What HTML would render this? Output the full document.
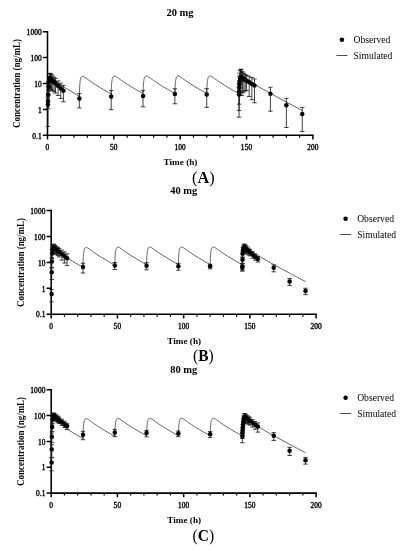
<!DOCTYPE html>
<html lang="en"><head><meta charset="utf-8"><title>Figure</title>
<style>
html,body{margin:0;padding:0;background:#fff}
body{width:407px;height:550px;overflow:hidden}
svg{display:block;font-family:"Liberation Serif",serif;fill:#000}
.ttl{font-weight:bold;font-size:10.5px}
.tl{font-weight:normal;font-size:7.4px;letter-spacing:0.1px;stroke:#000;stroke-width:0.36px}
.al{font-weight:bold;font-size:9.2px}
.lg{font-size:9.6px}
.pl{font-size:16.2px}
.pl .b{font-weight:bold}
.ax{fill:none;stroke:#000;stroke-width:1.55}
.tk{fill:none;stroke:#000;stroke-width:1.5}
.mtk{fill:none;stroke:#000;stroke-width:1.2}
.sim{fill:none;stroke:#111;stroke-width:0.65;stroke-linejoin:round}
.lgl{fill:none;stroke:#000;stroke-width:0.7}
.eb{fill:none;stroke:#111;stroke-width:0.8}
</style></head><body>
<svg width="407" height="550" viewBox="0 0 407 550">
<rect width="407" height="550" fill="#fff"/>
<g class="panel" id="panelA">
<text class="ttl" x="180" y="16.2" text-anchor="middle">20 mg</text>
<path class="ax" d="M47.5 30.93V136.09M46.73 135.32H313.67"/>
<path class="tk" d="M42.9 31.7H47.5M42.9 57.61H47.5M42.9 83.51H47.5M42.9 109.42H47.5M42.9 135.32H47.5M47.5 135.32V139.52M113.85 135.32V139.52M180.2 135.32V139.52M246.55 135.32V139.52M312.9 135.32V139.52"/>
<path class="mtk" d="M60.77 135.32V137.72M74.04 135.32V137.72M87.31 135.32V137.72M100.58 135.32V137.72M127.12 135.32V137.72M140.39 135.32V137.72M153.66 135.32V137.72M166.93 135.32V137.72M193.47 135.32V137.72M206.74 135.32V137.72M220.01 135.32V137.72M233.28 135.32V137.72M259.82 135.32V137.72M273.09 135.32V137.72M286.36 135.32V137.72M299.63 135.32V137.72"/>
<text class="tl" x="41.8" y="34.9" text-anchor="end">1000</text>
<text class="tl" x="41.8" y="60.81" text-anchor="end">100</text>
<text class="tl" x="41.8" y="86.71" text-anchor="end">10</text>
<text class="tl" x="41.8" y="112.62" text-anchor="end">1</text>
<text class="tl" x="41.8" y="138.52" text-anchor="end">0.1</text>
<text class="tl" x="47.5" y="150.02" text-anchor="middle">0</text>
<text class="tl" x="113.85" y="150.02" text-anchor="middle">50</text>
<text class="tl" x="180.2" y="150.02" text-anchor="middle">100</text>
<text class="tl" x="246.55" y="150.02" text-anchor="middle">150</text>
<text class="tl" x="312.9" y="150.02" text-anchor="middle">200</text>
<text class="al" x="180.5" y="164.92" text-anchor="middle">Time (h)</text>
<text class="al" transform="translate(17.4 83.51) rotate(-90)" text-anchor="middle" y="3" textLength="89" lengthAdjust="spacingAndGlyphs" style="font-size:9.8px">Concentration (ng/mL)</text>
<polyline class="sim" points="47.57,109.08 47.63,101.6 47.7,97.34 47.77,94.41 47.9,90.46 48.03,87.82 48.16,85.9 48.3,84.44 48.43,83.28 48.56,82.35 48.69,81.59 48.83,80.96 49.09,79.99 49.36,79.32 49.62,78.85 49.89,78.53 50.15,78.32 50.49,78.17 50.82,78.13 51.15,78.16 51.48,78.25 52.14,78.54 52.81,78.93 54.13,79.86 55.46,80.86 56.79,81.88 58.12,82.88 60.77,84.8 63.42,86.61 66.08,88.34 68.73,90 71.39,91.6 74.04,93.16 76.69,94.68 79.33,96.17 79.35,96.18 79.41,93.1 79.48,90.81 79.55,89.01 79.61,87.53 79.75,85.24 79.88,83.54 80.01,82.21 80.14,81.16 80.28,80.3 80.41,79.59 80.54,79.01 80.67,78.52 80.94,77.76 81.21,77.23 81.47,76.86 81.74,76.62 82,76.46 82.33,76.37 82.67,76.36 83,76.41 83.33,76.51 83.99,76.81 84.66,77.2 85.98,78.1 87.31,79.06 88.64,80.03 89.96,80.99 92.62,82.83 95.27,84.58 97.93,86.26 100.58,87.88 103.23,89.45 105.89,90.98 108.54,92.48 111.18,93.95 111.2,93.96 111.26,91.38 111.33,89.39 111.4,87.79 111.46,86.46 111.59,84.37 111.73,82.79 111.86,81.55 111.99,80.55 112.12,79.74 112.26,79.07 112.39,78.52 112.52,78.05 112.79,77.33 113.05,76.82 113.32,76.47 113.58,76.24 113.85,76.09 114.18,76.01 114.51,76 114.85,76.06 115.18,76.16 115.84,76.46 116.5,76.85 117.83,77.74 119.16,78.7 120.48,79.66 121.81,80.61 124.47,82.44 127.12,84.18 129.77,85.85 132.43,87.46 135.08,89.02 137.74,90.55 140.39,92.05 143.03,93.52 143.04,93.52 143.11,91.03 143.18,89.1 143.24,87.54 143.31,86.24 143.44,84.18 143.57,82.63 143.71,81.4 143.84,80.42 143.97,79.62 144.11,78.96 144.24,78.41 144.37,77.95 144.64,77.24 144.9,76.73 145.17,76.39 145.43,76.15 145.7,76.01 146.03,75.93 146.36,75.92 146.69,75.98 147.02,76.08 147.69,76.39 148.35,76.77 149.68,77.67 151.01,78.62 152.33,79.58 153.66,80.53 156.31,82.35 158.97,84.09 161.62,85.76 164.28,87.36 166.93,88.93 169.58,90.45 172.24,91.95 174.88,93.42 174.89,93.43 174.96,90.96 175.02,89.04 175.09,87.48 175.16,86.19 175.29,84.14 175.42,82.59 175.56,81.37 175.69,80.39 175.82,79.59 175.95,78.93 176.09,78.38 176.22,77.92 176.48,77.21 176.75,76.71 177.02,76.37 177.28,76.14 177.55,75.99 177.88,75.91 178.21,75.91 178.54,75.96 178.87,76.07 179.54,76.37 180.2,76.76 181.53,77.65 182.85,78.6 184.18,79.56 185.51,80.51 188.16,82.33 190.82,84.07 193.47,85.74 196.12,87.34 198.78,88.91 201.43,90.43 204.09,91.93 206.73,93.4 206.74,93.41 206.81,90.94 206.87,89.02 206.94,87.47 207.01,86.18 207.14,84.13 207.27,82.58 207.4,81.37 207.54,80.39 207.67,79.59 207.8,78.93 207.93,78.38 208.07,77.92 208.33,77.21 208.6,76.71 208.86,76.36 209.13,76.13 209.39,75.99 209.73,75.91 210.06,75.9 210.39,75.96 210.72,76.06 211.38,76.37 212.05,76.75 213.38,77.65 214.7,78.6 216.03,79.56 217.36,80.5 220.01,82.33 222.66,84.07 225.32,85.73 227.97,87.34 230.63,88.9 233.28,90.43 235.93,91.92 238.57,93.39 238.59,93.4 238.65,90.94 238.72,89.02 238.79,87.47 238.85,86.17 238.99,84.13 239.12,82.58 239.25,81.36 239.38,80.39 239.52,79.59 239.65,78.93 239.78,78.38 239.91,77.92 240.18,77.21 240.45,76.71 240.71,76.36 240.98,76.13 241.24,75.99 241.57,75.91 241.91,75.9 242.24,75.96 242.57,76.06 243.23,76.37 243.9,76.75 245.22,77.64 246.55,78.6 247.88,79.56 249.2,80.5 251.86,82.33 254.51,84.07 257.17,85.73 259.82,87.34 262.47,88.9 265.13,90.43 267.78,91.92 270.44,93.4 278.4,97.74 286.36,102.02 294.32,106.26 302.28,110.49"/>
<path class="eb" d="M47.9 97.91V126.45M45.7 97.91h4.4M45.7 126.45h4.4M48.03 96.69V108.34M45.83 96.69h4.4M45.83 108.34h4.4M48.16 90.03V101.62M45.96 90.03h4.4M45.96 101.62h4.4M48.43 81.94V95.32M46.23 81.94h4.4M46.23 95.32h4.4M48.83 76.29V91.31M46.63 76.29h4.4M46.63 91.31h4.4M49.62 73.34V87.05M47.42 73.34h4.4M47.42 87.05h4.4M50.15 73.65V88.15M47.95 73.65h4.4M47.95 88.15h4.4M50.82 74.03V89.61M48.62 74.03h4.4M48.62 89.61h4.4M51.48 74.66V90.13M49.28 74.66h4.4M49.28 90.13h4.4M52.81 76.03V90.77M50.61 76.03h4.4M50.61 90.77h4.4M54.13 77.29V91.81M51.93 77.29h4.4M51.93 91.81h4.4M55.46 78.47V93.15M53.26 78.47h4.4M53.26 93.15h4.4M58.12 80.94V95.44M55.92 80.94h4.4M55.92 95.44h4.4M60.77 83.23V98.43M58.57 83.23h4.4M58.57 98.43h4.4M63.42 85.42V101.84M61.22 85.42h4.4M61.22 101.84h4.4M79.35 93.6V107.94M77.15 93.6h4.4M77.15 107.94h4.4M111.2 90.48V109.64M109 90.48h4.4M109 109.64h4.4M143.04 90.57V106.81M140.84 90.57h4.4M140.84 106.81h4.4M174.89 88.8V103.78M172.69 88.8h4.4M172.69 103.78h4.4M206.74 88.71V107.36M204.54 88.71h4.4M204.54 107.36h4.4M239.03 87.36V117.21M236.83 87.36h4.4M236.83 117.21h4.4M239.12 84.57V110.6M236.92 84.57h4.4M236.92 110.6h4.4M239.19 81.09V104.13M236.99 81.09h4.4M236.99 104.13h4.4M239.38 76V84.09M237.18 76h4.4M239.65 73.2V81.46M237.45 73.2h4.4M240.05 70.6V78.58M237.85 70.6h4.4M240.71 69.26V77.21M238.51 69.26h4.4M241.24 69.41V77.53M239.04 69.41h4.4M241.91 71.37V95.57M239.71 71.37h4.4M239.71 95.57h4.4M242.57 72.19V92.87M240.37 72.19h4.4M240.37 92.87h4.4M243.9 73.3V91.83M241.7 73.3h4.4M241.7 91.83h4.4M245.22 74.5V90.72M243.02 74.5h4.4M243.02 90.72h4.4M246.55 75.53V90.59M244.35 75.53h4.4M244.35 90.59h4.4M249.2 76.21V96.54M247 76.21h4.4M247 96.54h4.4M251.86 77.56V99.69M249.66 77.56h4.4M249.66 99.69h4.4M254.51 78.95V102.8M252.31 78.95h4.4M252.31 102.8h4.4M270.44 87.28V111.24M268.24 87.28h4.4M268.24 111.24h4.4M286.36 98.32V127.52M284.16 98.32h4.4M284.16 127.52h4.4M302.28 107.36V131.53M300.08 107.36h4.4M300.08 131.53h4.4"/>
<circle cx="47.9" cy="104.85" r="2.25"/>
<circle cx="48.03" cy="101.07" r="2.25"/>
<circle cx="48.16" cy="94.4" r="2.25"/>
<circle cx="48.43" cy="86.75" r="2.25"/>
<circle cx="48.83" cy="81.46" r="2.25"/>
<circle cx="49.62" cy="78.22" r="2.25"/>
<circle cx="50.15" cy="78.71" r="2.25"/>
<circle cx="50.82" cy="79.32" r="2.25"/>
<circle cx="51.48" cy="79.92" r="2.25"/>
<circle cx="52.81" cy="81.14" r="2.25"/>
<circle cx="54.13" cy="82.36" r="2.25"/>
<circle cx="55.46" cy="83.57" r="2.25"/>
<circle cx="58.12" cy="86" r="2.25"/>
<circle cx="60.77" cy="88.44" r="2.25"/>
<circle cx="63.42" cy="90.87" r="2.25"/>
<circle cx="79.35" cy="98.62" r="2.25"/>
<circle cx="111.2" cy="96.4" r="2.25"/>
<circle cx="143.04" cy="95.98" r="2.25"/>
<circle cx="174.89" cy="93.96" r="2.25"/>
<circle cx="206.74" cy="94.54" r="2.25"/>
<circle cx="239.03" cy="94.4" r="2.25"/>
<circle cx="239.12" cy="91.31" r="2.25"/>
<circle cx="239.19" cy="87.52" r="2.25"/>
<circle cx="239.38" cy="84.09" r="2.25"/>
<circle cx="239.65" cy="81.46" r="2.25"/>
<circle cx="240.05" cy="78.58" r="2.25"/>
<circle cx="240.71" cy="77.21" r="2.25"/>
<circle cx="241.24" cy="77.53" r="2.25"/>
<circle cx="241.91" cy="77.93" r="2.25"/>
<circle cx="242.57" cy="78.33" r="2.25"/>
<circle cx="243.9" cy="79.12" r="2.25"/>
<circle cx="245.22" cy="79.91" r="2.25"/>
<circle cx="246.55" cy="80.71" r="2.25"/>
<circle cx="249.2" cy="82.3" r="2.25"/>
<circle cx="251.86" cy="83.88" r="2.25"/>
<circle cx="254.51" cy="85.47" r="2.25"/>
<circle cx="270.44" cy="93.82" r="2.25"/>
<circle cx="286.36" cy="105.31" r="2.25"/>
<circle cx="302.28" cy="113.92" r="2.25"/>
<circle cx="341.9" cy="39.8" r="2.25"/>
<text class="lg" x="353.5" y="43">Observed</text>
<path class="lgl" d="M336.4 55.5h11"/>
<text class="lg" x="353.5" y="59">Simulated</text>
<text class="pl" x="203.4" y="183" text-anchor="middle" textLength="22.6" lengthAdjust="spacingAndGlyphs">(<tspan class="b">A</tspan>)</text>
</g>
<g class="panel" id="panelB">
<text class="ttl" x="183.7" y="194.1" text-anchor="middle">40 mg</text>
<path class="ax" d="M51.2 209.82V315.04M50.43 314.27H316.87"/>
<path class="tk" d="M46.6 210.6H51.2M46.6 236.52H51.2M46.6 262.44H51.2M46.6 288.35H51.2M46.6 314.27H51.2M51.2 314.27V318.47M117.42 314.27V318.47M183.65 314.27V318.47M249.88 314.27V318.47M316.1 314.27V318.47"/>
<path class="mtk" d="M64.45 314.27V316.67M77.69 314.27V316.67M90.94 314.27V316.67M104.18 314.27V316.67M130.67 314.27V316.67M143.92 314.27V316.67M157.16 314.27V316.67M170.41 314.27V316.67M196.89 314.27V316.67M210.14 314.27V316.67M223.38 314.27V316.67M236.63 314.27V316.67M263.12 314.27V316.67M276.37 314.27V316.67M289.61 314.27V316.67M302.86 314.27V316.67"/>
<text class="tl" x="45.5" y="213.8" text-anchor="end">1000</text>
<text class="tl" x="45.5" y="239.72" text-anchor="end">100</text>
<text class="tl" x="45.5" y="265.63" text-anchor="end">10</text>
<text class="tl" x="45.5" y="291.55" text-anchor="end">1</text>
<text class="tl" x="45.5" y="317.47" text-anchor="end">0.1</text>
<text class="tl" x="51.2" y="328.97" text-anchor="middle">0</text>
<text class="tl" x="117.42" y="328.97" text-anchor="middle">50</text>
<text class="tl" x="183.65" y="328.97" text-anchor="middle">100</text>
<text class="tl" x="249.88" y="328.97" text-anchor="middle">150</text>
<text class="tl" x="316.1" y="328.97" text-anchor="middle">200</text>
<text class="al" x="184.2" y="343.87" text-anchor="middle">Time (h)</text>
<text class="al" transform="translate(21.1 262.44) rotate(-90)" text-anchor="middle" y="3" textLength="89" lengthAdjust="spacingAndGlyphs" style="font-size:9.8px">Concentration (ng/mL)</text>
<polyline class="sim" points="51.27,280.22 51.33,272.73 51.4,268.47 51.46,265.54 51.6,261.58 51.73,258.95 51.86,257.03 51.99,255.56 52.13,254.4 52.26,253.47 52.39,252.71 52.52,252.08 52.79,251.12 53.05,250.44 53.32,249.97 53.58,249.65 53.85,249.44 54.18,249.29 54.51,249.25 54.84,249.28 55.17,249.37 55.84,249.66 56.5,250.05 57.82,250.98 59.15,251.99 60.47,253 61.8,254 64.45,255.92 67.09,257.74 69.74,259.47 72.39,261.13 75.04,262.73 77.69,264.29 80.34,265.81 82.97,267.3 82.99,267.31 83.05,264.23 83.12,261.94 83.19,260.13 83.25,258.66 83.39,256.37 83.52,254.66 83.65,253.34 83.78,252.28 83.92,251.42 84.05,250.71 84.18,250.13 84.31,249.64 84.58,248.88 84.84,248.35 85.11,247.98 85.37,247.74 85.64,247.58 85.97,247.49 86.3,247.48 86.63,247.53 86.96,247.63 87.62,247.93 88.29,248.32 89.61,249.22 90.94,250.18 92.26,251.15 93.58,252.11 96.23,253.95 98.88,255.71 101.53,257.39 104.18,259 106.83,260.57 109.48,262.11 112.13,263.61 114.76,265.08 114.78,265.09 114.84,262.51 114.91,260.52 114.97,258.92 115.04,257.59 115.17,255.49 115.31,253.91 115.44,252.67 115.57,251.67 115.7,250.86 115.84,250.19 115.97,249.64 116.1,249.17 116.37,248.45 116.63,247.94 116.9,247.59 117.16,247.36 117.42,247.21 117.76,247.13 118.09,247.12 118.42,247.18 118.75,247.28 119.41,247.58 120.07,247.97 121.4,248.86 122.72,249.82 124.05,250.78 125.37,251.73 128.02,253.56 130.67,255.3 133.32,256.97 135.97,258.58 138.62,260.15 141.27,261.67 143.92,263.17 146.55,264.64 146.56,264.65 146.63,262.16 146.7,260.23 146.76,258.66 146.83,257.36 146.96,255.31 147.09,253.75 147.23,252.53 147.36,251.54 147.49,250.74 147.62,250.08 147.76,249.53 147.89,249.07 148.15,248.36 148.42,247.85 148.68,247.51 148.95,247.27 149.21,247.13 149.54,247.05 149.88,247.04 150.21,247.1 150.54,247.2 151.2,247.51 151.86,247.89 153.19,248.79 154.51,249.74 155.84,250.7 157.16,251.65 159.81,253.47 162.46,255.21 165.11,256.88 167.76,258.49 170.41,260.05 173.05,261.58 175.7,263.08 178.34,264.55 178.35,264.55 178.42,262.08 178.48,260.16 178.55,258.61 178.62,257.31 178.75,255.26 178.88,253.71 179.01,252.49 179.15,251.52 179.28,250.72 179.41,250.06 179.54,249.51 179.68,249.05 179.94,248.33 180.21,247.83 180.47,247.49 180.74,247.26 181,247.11 181.33,247.03 181.66,247.03 181.99,247.08 182.33,247.19 182.99,247.49 183.65,247.88 184.97,248.77 186.3,249.72 187.62,250.68 188.95,251.63 191.6,253.45 194.25,255.19 196.89,256.86 199.54,258.47 202.19,260.03 204.84,261.56 207.49,263.06 210.13,264.53 210.14,264.53 210.21,262.07 210.27,260.15 210.34,258.59 210.4,257.3 210.54,255.26 210.67,253.71 210.8,252.49 210.93,251.51 211.07,250.71 211.2,250.05 211.33,249.5 211.46,249.04 211.73,248.33 211.99,247.83 212.26,247.48 212.52,247.25 212.79,247.11 213.12,247.03 213.45,247.02 213.78,247.08 214.11,247.18 214.78,247.49 215.44,247.87 216.76,248.77 218.09,249.72 219.41,250.68 220.74,251.63 223.38,253.45 226.03,255.19 228.68,256.86 231.33,258.46 233.98,260.03 236.63,261.55 239.28,263.05 241.91,264.52 241.93,264.53 241.99,262.06 242.06,260.14 242.13,258.59 242.19,257.3 242.33,255.25 242.46,253.7 242.59,252.49 242.72,251.51 242.86,250.71 242.99,250.05 243.12,249.5 243.25,249.04 243.52,248.33 243.78,247.83 244.05,247.48 244.31,247.25 244.58,247.11 244.91,247.03 245.24,247.02 245.57,247.08 245.9,247.18 246.56,247.48 247.23,247.87 248.55,248.76 249.88,249.72 251.2,250.68 252.52,251.62 255.17,253.45 257.82,255.19 260.47,256.85 263.12,258.46 265.77,260.03 268.42,261.55 271.07,263.05 273.72,264.53 281.66,268.87 289.61,273.15 297.56,277.4 305.5,281.63"/>
<path class="eb" d="M51.6 289.54V301.9M49.4 289.54h4.4M49.4 301.9h4.4M51.73 267.82V279.48M49.53 267.82h4.4M49.53 279.48h4.4M51.86 257.65V267.64M49.66 257.65h4.4M49.66 267.64h4.4M52.13 250.07V258.65M49.93 250.07h4.4M49.93 258.65h4.4M52.52 246.02V254.08M50.32 246.02h4.4M50.32 254.08h4.4M53.45 244.1V252.12M51.25 244.1h4.4M51.25 252.12h4.4M54.11 244.49V252.93M51.91 244.49h4.4M51.91 252.93h4.4M55.17 245.47V253.48M52.97 245.47h4.4M52.97 253.48h4.4M56.5 246.51V254.55M54.3 246.51h4.4M54.3 254.55h4.4M57.82 247.59V255.57M55.62 247.59h4.4M55.62 255.57h4.4M59.15 248.52V256.86M56.95 248.52h4.4M56.95 256.86h4.4M61.8 250.11V260.12M59.6 250.11h4.4M59.6 260.12h4.4M64.45 251.91V263.03M62.25 251.91h4.4M62.25 263.03h4.4M67.09 253.82V265.67M64.89 253.82h4.4M64.89 265.67h4.4M82.99 263.25V273.03M80.79 263.25h4.4M80.79 273.03h4.4M114.78 262.55V269.58M112.58 262.55h4.4M112.58 269.58h4.4M146.56 262.66V269.8M144.36 262.66h4.4M144.36 269.8h4.4M178.35 263.37V270.24M176.15 263.37h4.4M176.15 270.24h4.4M210.14 264.26V268.76M207.94 264.26h4.4M207.94 268.76h4.4M242.37 265.23V271.18M240.17 265.23h4.4M240.17 271.18h4.4M242.39 263.62V270.24M240.19 263.62h4.4M240.19 270.24h4.4M242.52 257V263.37M240.32 257h4.4M240.32 263.37h4.4M242.59 251.09V257.57M240.39 251.09h4.4M240.39 257.57h4.4M242.99 247.41V253.56M240.79 247.41h4.4M240.79 253.56h4.4M243.52 245.02V252.12M241.32 245.02h4.4M241.32 252.12h4.4M244.18 243.99V251.9M241.98 243.99h4.4M241.98 251.9h4.4M244.84 244.64V252.3M242.64 244.64h4.4M242.64 252.3h4.4M245.9 245.57V253.18M243.7 245.57h4.4M243.7 253.18h4.4M247.23 246.83V254.07M245.03 246.83h4.4M245.03 254.07h4.4M248.55 248.15V254.87M246.35 248.15h4.4M246.35 254.87h4.4M249.88 249.4V255.8M247.68 249.4h4.4M247.68 255.8h4.4M252.52 251.61V258.2M250.32 251.61h4.4M250.32 258.2h4.4M255.17 254.06V260.16M252.97 254.06h4.4M252.97 260.16h4.4M257.82 256.53V262.1M255.62 256.53h4.4M255.62 262.1h4.4M273.72 264.88V271.8M271.52 264.88h4.4M271.52 271.8h4.4M289.61 278.5V285.4M287.41 278.5h4.4M287.41 285.4h4.4M305.5 288.24V294.68M303.3 288.24h4.4M303.3 294.68h4.4"/>
<circle cx="51.6" cy="294.1" r="2.25"/>
<circle cx="51.73" cy="272.2" r="2.25"/>
<circle cx="51.86" cy="261.57" r="2.25"/>
<circle cx="52.13" cy="253.56" r="2.25"/>
<circle cx="52.52" cy="249.34" r="2.25"/>
<circle cx="53.45" cy="247.41" r="2.25"/>
<circle cx="54.11" cy="247.93" r="2.25"/>
<circle cx="55.17" cy="248.78" r="2.25"/>
<circle cx="56.5" cy="249.83" r="2.25"/>
<circle cx="57.82" cy="250.88" r="2.25"/>
<circle cx="59.15" cy="251.94" r="2.25"/>
<circle cx="61.8" cy="254.04" r="2.25"/>
<circle cx="64.45" cy="256.15" r="2.25"/>
<circle cx="67.09" cy="258.25" r="2.25"/>
<circle cx="82.99" cy="267.11" r="2.25"/>
<circle cx="114.78" cy="265.52" r="2.25"/>
<circle cx="146.56" cy="265.67" r="2.25"/>
<circle cx="178.35" cy="266.29" r="2.25"/>
<circle cx="210.14" cy="266.29" r="2.25"/>
<circle cx="242.37" cy="267.82" r="2.25"/>
<circle cx="242.39" cy="266.45" r="2.25"/>
<circle cx="242.52" cy="259.74" r="2.25"/>
<circle cx="242.59" cy="253.87" r="2.25"/>
<circle cx="242.99" cy="250.07" r="2.25"/>
<circle cx="243.52" cy="248.02" r="2.25"/>
<circle cx="244.18" cy="247.26" r="2.25"/>
<circle cx="244.84" cy="247.83" r="2.25"/>
<circle cx="245.9" cy="248.74" r="2.25"/>
<circle cx="247.23" cy="249.88" r="2.25"/>
<circle cx="248.55" cy="251.01" r="2.25"/>
<circle cx="249.88" cy="252.15" r="2.25"/>
<circle cx="252.52" cy="254.43" r="2.25"/>
<circle cx="255.17" cy="256.7" r="2.25"/>
<circle cx="257.82" cy="258.97" r="2.25"/>
<circle cx="273.72" cy="267.82" r="2.25"/>
<circle cx="289.61" cy="281.43" r="2.25"/>
<circle cx="305.5" cy="291.01" r="2.25"/>
<circle cx="345.6" cy="218.7" r="2.25"/>
<text class="lg" x="357.2" y="221.9">Observed</text>
<path class="lgl" d="M340.1 234.5h11"/>
<text class="lg" x="357.2" y="237.9">Simulated</text>
<text class="pl" x="203.4" y="361.4" text-anchor="middle" textLength="20.6" lengthAdjust="spacingAndGlyphs">(<tspan class="b">B</tspan>)</text>
</g>
<g class="panel" id="panelC">
<text class="ttl" x="183.7" y="373.1" text-anchor="middle">80 mg</text>
<path class="ax" d="M51.2 388.93V493.88M50.43 493.1H316.87"/>
<path class="tk" d="M46.6 389.7H51.2M46.6 415.55H51.2M46.6 441.4H51.2M46.6 467.25H51.2M46.6 493.1H51.2M51.2 493.1V497.3M117.42 493.1V497.3M183.65 493.1V497.3M249.88 493.1V497.3M316.1 493.1V497.3"/>
<path class="mtk" d="M64.45 493.1V495.5M77.69 493.1V495.5M90.94 493.1V495.5M104.18 493.1V495.5M130.67 493.1V495.5M143.92 493.1V495.5M157.16 493.1V495.5M170.41 493.1V495.5M196.89 493.1V495.5M210.14 493.1V495.5M223.38 493.1V495.5M236.63 493.1V495.5M263.12 493.1V495.5M276.37 493.1V495.5M289.61 493.1V495.5M302.86 493.1V495.5"/>
<text class="tl" x="45.5" y="392.9" text-anchor="end">1000</text>
<text class="tl" x="45.5" y="418.75" text-anchor="end">100</text>
<text class="tl" x="45.5" y="444.6" text-anchor="end">10</text>
<text class="tl" x="45.5" y="470.45" text-anchor="end">1</text>
<text class="tl" x="45.5" y="496.3" text-anchor="end">0.1</text>
<text class="tl" x="51.2" y="507.8" text-anchor="middle">0</text>
<text class="tl" x="117.42" y="507.8" text-anchor="middle">50</text>
<text class="tl" x="183.65" y="507.8" text-anchor="middle">100</text>
<text class="tl" x="249.88" y="507.8" text-anchor="middle">150</text>
<text class="tl" x="316.1" y="507.8" text-anchor="middle">200</text>
<text class="al" x="184.2" y="522.7" text-anchor="middle">Time (h)</text>
<text class="al" transform="translate(21.1 441.4) rotate(-90)" text-anchor="middle" y="3" textLength="89" lengthAdjust="spacingAndGlyphs" style="font-size:9.8px">Concentration (ng/mL)</text>
<polyline class="sim" points="51.27,451.36 51.33,443.88 51.4,439.64 51.46,436.72 51.6,432.77 51.73,430.14 51.86,428.23 51.99,426.76 52.13,425.61 52.26,424.68 52.39,423.92 52.52,423.29 52.79,422.33 53.05,421.65 53.32,421.18 53.58,420.86 53.85,420.65 54.18,420.51 54.51,420.47 54.84,420.5 55.17,420.58 55.84,420.87 56.5,421.26 57.82,422.19 59.15,423.2 60.47,424.21 61.8,425.2 64.45,427.12 67.09,428.93 69.74,430.66 72.39,432.32 75.04,433.91 77.69,435.47 80.34,436.99 82.97,438.47 82.99,438.48 83.05,435.41 83.12,433.12 83.19,431.32 83.25,429.85 83.39,427.57 83.52,425.86 83.65,424.54 83.78,423.49 83.92,422.63 84.05,421.93 84.18,421.34 84.31,420.86 84.58,420.1 84.84,419.57 85.11,419.2 85.37,418.96 85.64,418.8 85.97,418.71 86.3,418.7 86.63,418.75 86.96,418.85 87.62,419.15 88.29,419.54 89.61,420.44 90.94,421.4 92.26,422.37 93.58,423.32 96.23,425.16 98.88,426.91 101.53,428.58 104.18,430.2 106.83,431.76 109.48,433.29 112.13,434.79 114.76,436.26 114.78,436.27 114.84,433.69 114.91,431.71 114.97,430.11 115.04,428.78 115.17,426.69 115.31,425.12 115.44,423.88 115.57,422.89 115.7,422.08 115.84,421.41 115.97,420.85 116.1,420.39 116.37,419.67 116.63,419.16 116.9,418.81 117.16,418.58 117.42,418.43 117.76,418.35 118.09,418.34 118.42,418.4 118.75,418.5 119.41,418.8 120.07,419.19 121.4,420.08 122.72,421.04 124.05,422 125.37,422.94 128.02,424.77 130.67,426.5 133.32,428.17 135.97,429.77 138.62,431.33 141.27,432.86 143.92,434.35 146.55,435.82 146.56,435.83 146.63,433.34 146.7,431.42 146.76,429.86 146.83,428.56 146.96,426.51 147.09,424.95 147.23,423.74 147.36,422.76 147.49,421.96 147.62,421.3 147.76,420.75 147.89,420.29 148.15,419.58 148.42,419.08 148.68,418.73 148.95,418.5 149.21,418.35 149.54,418.27 149.88,418.27 150.21,418.32 150.54,418.43 151.2,418.73 151.86,419.11 153.19,420.01 154.51,420.96 155.84,421.92 157.16,422.86 159.81,424.68 162.46,426.42 165.11,428.08 167.76,429.68 170.41,431.24 173.05,432.76 175.7,434.26 178.34,435.73 178.35,435.73 178.42,433.27 178.48,431.35 178.55,429.8 178.62,428.51 178.75,426.47 178.88,424.92 179.01,423.7 179.15,422.73 179.28,421.93 179.41,421.27 179.54,420.72 179.68,420.26 179.94,419.55 180.21,419.06 180.47,418.71 180.74,418.48 181,418.34 181.33,418.25 181.66,418.25 181.99,418.31 182.33,418.41 182.99,418.71 183.65,419.1 184.97,419.99 186.3,420.94 187.62,421.9 188.95,422.84 191.6,424.66 194.25,426.4 196.89,428.06 199.54,429.66 202.19,431.22 204.84,432.74 207.49,434.24 210.13,435.7 210.14,435.71 210.21,433.25 210.27,431.34 210.34,429.79 210.4,428.5 210.54,426.46 210.67,424.91 210.8,423.7 210.93,422.72 211.07,421.92 211.2,421.27 211.33,420.72 211.46,420.26 211.73,419.55 211.99,419.05 212.26,418.71 212.52,418.47 212.79,418.33 213.12,418.25 213.45,418.25 213.78,418.3 214.11,418.41 214.78,418.71 215.44,419.09 216.76,419.98 218.09,420.94 219.41,421.89 220.74,422.84 223.38,424.66 226.03,426.39 228.68,428.05 231.33,429.66 233.98,431.22 236.63,432.74 239.28,434.23 241.91,435.7 241.93,435.71 241.99,433.25 242.06,431.33 242.13,429.78 242.19,428.49 242.33,426.46 242.46,424.91 242.59,423.7 242.72,422.72 242.86,421.92 242.99,421.26 243.12,420.72 243.25,420.26 243.52,419.55 243.78,419.05 244.05,418.7 244.31,418.47 244.58,418.33 244.91,418.25 245.24,418.25 245.57,418.3 245.9,418.41 246.56,418.71 247.23,419.09 248.55,419.98 249.88,420.94 251.2,421.89 252.52,422.84 255.17,424.66 257.82,426.39 260.47,428.05 263.12,429.66 265.77,431.22 268.42,432.74 271.07,434.23 273.72,435.71 281.66,440.04 289.61,444.31 297.56,448.54 305.5,452.76"/>
<path class="eb" d="M51.6 457.75V470.78M49.4 457.75h4.4M49.4 470.78h4.4M51.73 444.78V457.42M49.53 444.78h4.4M49.53 457.42h4.4M51.86 433.07V442.58M49.66 433.07h4.4M49.66 442.58h4.4M52.13 423.79V431.57M49.93 423.79h4.4M49.93 431.57h4.4M52.52 416.49V423.79M50.32 416.49h4.4M50.32 423.79h4.4M53.45 412.96V418.93M51.25 412.96h4.4M51.25 418.93h4.4M54.11 413.35V419.62M51.91 413.35h4.4M51.91 419.62h4.4M55.17 414.08V420.56M52.97 414.08h4.4M52.97 420.56h4.4M56.5 415.07V421.6M54.3 415.07h4.4M54.3 421.6h4.4M57.82 416.08V422.6M55.62 416.08h4.4M55.62 422.6h4.4M59.15 417.11V423.56M56.95 417.11h4.4M56.95 423.56h4.4M61.8 419.19V425.47M59.6 419.19h4.4M59.6 425.47h4.4M64.45 421.19V427.5M62.25 421.19h4.4M62.25 427.5h4.4M67.09 423.18V429.56M64.89 423.18h4.4M64.89 429.56h4.4M82.99 431.29V439.73M80.79 431.29h4.4M80.79 439.73h4.4M114.78 429.33V436.63M112.58 429.33h4.4M112.58 436.63h4.4M146.56 430.33V436.85M144.36 430.33h4.4M144.36 436.85h4.4M178.35 430.98V436.63M176.15 430.98h4.4M176.15 436.63h4.4M210.14 431.57V437.62M207.94 431.57h4.4M207.94 437.62h4.4M242.37 432.6V442.71M240.17 432.6h4.4M240.17 442.71h4.4M242.46 430.25V438.45M240.26 430.25h4.4M240.26 438.45h4.4M242.59 427.34V435.44M240.39 427.34h4.4M240.39 435.44h4.4M242.79 424.51V432.05M240.59 424.51h4.4M240.59 432.05h4.4M243.05 421.86V428.7M240.85 421.86h4.4M240.85 428.7h4.4M243.32 418.93V425.84M241.12 418.93h4.4M241.12 425.84h4.4M243.65 416.01V422.89M241.45 416.01h4.4M241.45 422.89h4.4M244.31 413.5V421.28M242.11 413.5h4.4M242.11 421.28h4.4M244.97 413.86V422.02M242.77 413.86h4.4M242.77 422.02h4.4M245.9 414.57V422.65M243.7 414.57h4.4M243.7 422.65h4.4M247.23 415.61V423.46M245.03 415.61h4.4M245.03 423.46h4.4M248.55 416.64V424.32M246.35 416.64h4.4M246.35 424.32h4.4M249.88 417.69V425.12M247.68 417.69h4.4M247.68 425.12h4.4M252.52 419.6V427.12M250.32 419.6h4.4M250.32 427.12h4.4M255.17 421.41V429.32M252.97 421.41h4.4M252.97 429.32h4.4M257.82 422.93V432.15M255.62 422.93h4.4M255.62 432.15h4.4M273.72 432.6V440.43M271.52 432.6h4.4M271.52 440.43h4.4M289.61 447.42V455.49M287.41 447.42h4.4M287.41 455.49h4.4M305.5 457.33V464.13M303.3 457.33h4.4M303.3 464.13h4.4"/>
<circle cx="51.6" cy="462.48" r="2.25"/>
<circle cx="51.73" cy="449.41" r="2.25"/>
<circle cx="51.86" cy="436.85" r="2.25"/>
<circle cx="52.13" cy="427.02" r="2.25"/>
<circle cx="52.52" cy="419.55" r="2.25"/>
<circle cx="53.45" cy="415.55" r="2.25"/>
<circle cx="54.11" cy="416.05" r="2.25"/>
<circle cx="55.17" cy="416.86" r="2.25"/>
<circle cx="56.5" cy="417.87" r="2.25"/>
<circle cx="57.82" cy="418.87" r="2.25"/>
<circle cx="59.15" cy="419.88" r="2.25"/>
<circle cx="61.8" cy="421.89" r="2.25"/>
<circle cx="64.45" cy="423.91" r="2.25"/>
<circle cx="67.09" cy="425.92" r="2.25"/>
<circle cx="82.99" cy="434.74" r="2.25"/>
<circle cx="114.78" cy="432.4" r="2.25"/>
<circle cx="146.56" cy="433.12" r="2.25"/>
<circle cx="178.35" cy="433.45" r="2.25"/>
<circle cx="210.14" cy="434.19" r="2.25"/>
<circle cx="242.37" cy="436.55" r="2.25"/>
<circle cx="242.46" cy="433.62" r="2.25"/>
<circle cx="242.59" cy="430.67" r="2.25"/>
<circle cx="242.79" cy="427.66" r="2.25"/>
<circle cx="243.05" cy="424.77" r="2.25"/>
<circle cx="243.32" cy="421.86" r="2.25"/>
<circle cx="243.65" cy="418.93" r="2.25"/>
<circle cx="244.31" cy="416.73" r="2.25"/>
<circle cx="244.97" cy="417.22" r="2.25"/>
<circle cx="245.9" cy="417.9" r="2.25"/>
<circle cx="247.23" cy="418.87" r="2.25"/>
<circle cx="248.55" cy="419.84" r="2.25"/>
<circle cx="249.88" cy="420.8" r="2.25"/>
<circle cx="252.52" cy="422.74" r="2.25"/>
<circle cx="255.17" cy="424.68" r="2.25"/>
<circle cx="257.82" cy="426.62" r="2.25"/>
<circle cx="273.72" cy="435.85" r="2.25"/>
<circle cx="289.61" cy="450.75" r="2.25"/>
<circle cx="305.5" cy="460.22" r="2.25"/>
<circle cx="345.6" cy="397.8" r="2.25"/>
<text class="lg" x="357.2" y="401">Observed</text>
<path class="lgl" d="M340.1 413.5h11"/>
<text class="lg" x="357.2" y="417">Simulated</text>
<text class="pl" x="203.4" y="541.3" text-anchor="middle" textLength="21.6" lengthAdjust="spacingAndGlyphs">(<tspan class="b">C</tspan>)</text>
</g>
</svg>
</body></html>
